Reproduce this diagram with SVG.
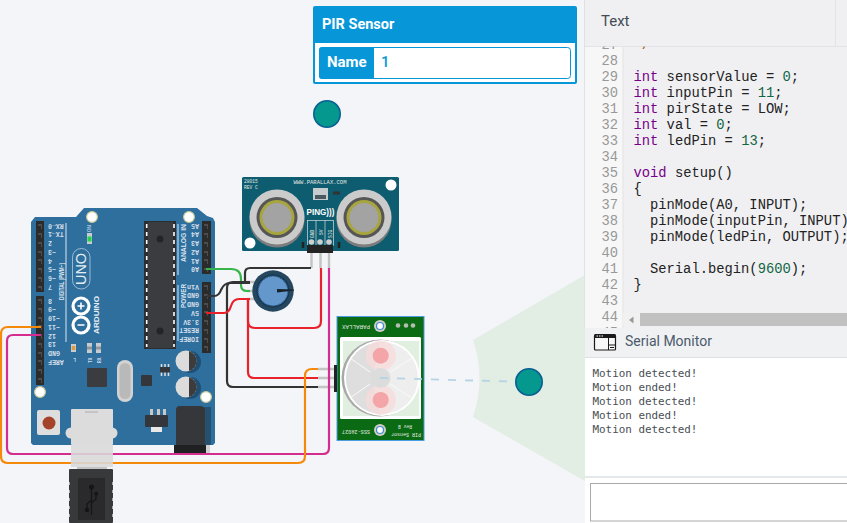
<svg xmlns="http://www.w3.org/2000/svg" width="847" height="523" viewBox="0 0 847 523">
<style>
.wire{fill:none;stroke-width:2.2;stroke-linejoin:round;stroke-linecap:butt}
.lead{fill:none;stroke:#c4c4c4;stroke-width:2.4}
.lab{font:700 6.600px "Liberation Mono",monospace;fill:#d5deE8}
.vlab{font:700 7.6px "Liberation Sans",sans-serif;fill:#dde6ef}
.hole{fill:#fff;stroke:#c9c89a;stroke-width:1.2}
.code{font:13.8px "Liberation Mono",monospace;fill:#222}
.num{font:13.8px "Liberation Mono",monospace;fill:#999;text-anchor:end}
.k{fill:#708}.n{fill:#164}
.out{font:10.9px "DejaVu Sans Mono",monospace;fill:#4a4f55}
.tiny{font:4.6px "Liberation Mono",monospace;fill:#e2e8e2}
.node-dot{fill:#04988f;stroke:#0a5f92;stroke-width:1.6}
</style>
<defs><clipPath id="editor"><rect x="585" y="46.500" width="262" height="281.500"/></clipPath></defs>
<rect width="847" height="523" fill="#f4f5f8"/>
<path id="cone" d="M473 340Q486 378 473 417L590 484V272Z" fill="#e2ede4"/>
<g id="arduino">
<path d="M31 222L35 217H76L84 208H197L207 216L213 218L215 222V443L213 445H33L31 443Z" fill="#2e6f9e"/>
<g fill="#2b2b2b">
<rect x="36" y="221" width="8" height="71"/><rect x="36" y="296" width="8" height="89"/>
<rect x="202" y="221" width="9" height="53"/><rect x="202" y="282" width="9" height="71"/>
</g>
<path d="M38 224h4v5h-1v-3h-3zM38 233h4v5h-1v-3h-3zM38 242h4v5h-1v-3h-3zM38 251h4v5h-1v-3h-3zM38 259h4v5h-1v-3h-3zM38 268h4v5h-1v-3h-3zM38 277h4v5h-1v-3h-3zM38 286h4v4h-1v-2h-3zM38 299h4v5h-1v-3h-3zM38 308h4v5h-1v-3h-3zM38 317h4v5h-1v-3h-3zM38 325h4v5h-1v-3h-3zM38 334h4v5h-1v-3h-3zM38 343h4v5h-1v-3h-3zM38 352h4v5h-1v-3h-3zM38 360h4v5h-1v-3h-3zM38 369h4v5h-1v-3h-3zM38 378h4v5h-1v-3h-3zM204 224h4v5h-1v-3h-3zM204 233h4v5h-1v-3h-3zM204 242h4v5h-1v-3h-3zM204 251h4v5h-1v-3h-3zM204 259h4v5h-1v-3h-3zM204 268h4v4h-1v-2h-3zM204 285h4v5h-1v-3h-3zM204 294h4v5h-1v-3h-3zM204 303h4v5h-1v-3h-3zM204 311h4v5h-1v-3h-3zM204 320h4v5h-1v-3h-3zM204 329h4v5h-1v-3h-3zM204 338h4v5h-1v-3h-3zM204 346h4v5h-1v-3h-3z" fill="#4c4c4c"/>
<g class="lab" text-anchor="end">
<text transform="rotate(180 48 223.500)" x="48" y="223.500">RX←0</text>
<text transform="rotate(180 48 232.300)" x="48" y="232.300">TX→1</text>
<text transform="rotate(180 48 241)" x="48" y="241">2</text>
<text transform="rotate(180 48 249.800)" x="48" y="249.800">~3</text>
<text transform="rotate(180 48 258.500)" x="48" y="258.500">4</text>
<text transform="rotate(180 48 267.300)" x="48" y="267.300">~5</text>
<text transform="rotate(180 48 276)" x="48" y="276">~6</text>
<text transform="rotate(180 48 284.800)" x="48" y="284.800">7</text>
<text transform="rotate(180 48 298.500)" x="48" y="298.500">8</text>
<text transform="rotate(180 48 307.300)" x="48" y="307.300">~9</text>
<text transform="rotate(180 48 316)" x="48" y="316">~10</text>
<text transform="rotate(180 48 324.800)" x="48" y="324.800">~11</text>
<text transform="rotate(180 48 333.500)" x="48" y="333.500">12</text>
<text transform="rotate(180 48 342.300)" x="48" y="342.300">13</text>
<text transform="rotate(180 48 351)" x="48" y="351">GND</text>
<text transform="rotate(180 48 359.800)" x="48" y="359.800">AREF</text>
</g>
<g class="lab" text-anchor="start">
<text transform="rotate(180 199 223.500)" x="199" y="223.500">A5</text>
<text transform="rotate(180 199 232.300)" x="199" y="232.300">A4</text>
<text transform="rotate(180 199 241)" x="199" y="241">A3</text>
<text transform="rotate(180 199 249.800)" x="199" y="249.800">A2</text>
<text transform="rotate(180 199 258.500)" x="199" y="258.500">A1</text>
<text transform="rotate(180 199 267.300)" x="199" y="267.300">A0</text>
<text transform="rotate(180 199 284.500)" x="199" y="284.500">Vin</text>
<text transform="rotate(180 199 293.300)" x="199" y="293.300">GND</text>
<text transform="rotate(180 199 302)" x="199" y="302">GND</text>
<text transform="rotate(180 199 310.800)" x="199" y="310.800">5V</text>
<text transform="rotate(180 199 319.500)" x="199" y="319.500">3.3V</text>
<text transform="rotate(180 199 328.300)" x="199" y="328.300">RESET</text>
<text transform="rotate(180 199 337)" x="199" y="337">IOREF</text>
</g>
<path d="M66 223V342M178 224V275M178 285V341" stroke="#dde6ef" stroke-width="1" fill="none"/>
<text class="vlab" transform="translate(64 300) rotate(-90)" textLength="37" lengthAdjust="spacingAndGlyphs">DIGITAL (PWM~)</text>
<text class="vlab" transform="translate(186 262) rotate(-90)" textLength="38" lengthAdjust="spacingAndGlyphs">ANALOG IN</text>
<text class="vlab" transform="translate(186 308) rotate(-90)" textLength="24" lengthAdjust="spacingAndGlyphs">POWER</text>
<rect x="72.500" y="248.500" width="17.500" height="40.500" rx="8.700" fill="none" stroke="#b9cbdc" stroke-width="0.800"/>
<text transform="translate(86 285) rotate(-90)" font-family="Liberation Sans,sans-serif" font-size="14" fill="#e6edf3" textLength="32" lengthAdjust="spacingAndGlyphs">UNO</text>
<circle cx="81" cy="306" r="8" fill="none" stroke="#fff" stroke-width="3.200"/>
<circle cx="81" cy="325" r="8" fill="none" stroke="#fff" stroke-width="3.200"/>
<path d="M77.500 306h7M81 302.500v7M77.500 325h7" stroke="#fff" stroke-width="1.600"/>
<text transform="translate(99 334) rotate(-90)" font-family="Liberation Sans,sans-serif" font-weight="700" font-size="8" fill="#e6edf3" textLength="38" lengthAdjust="spacingAndGlyphs">ARDUINO</text>
<text transform="translate(91 232) rotate(-90)" font-family="Liberation Sans,sans-serif" font-size="4.500" fill="#dde6ef">ON</text>
<rect x="87" y="233" width="5" height="11" fill="#c5cdd2"/><rect x="87.500" y="236.500" width="4" height="5" fill="#27d14a"/>
<rect x="71" y="344" width="5" height="8" fill="#c8ccce"/><rect x="71.800" y="346" width="3.400" height="4" fill="#e49a3a"/>
<rect x="87" y="343" width="5" height="10" fill="#c8ccce"/><rect x="96" y="343" width="5" height="10" fill="#c8ccce"/>
<rect x="87" y="346.500" width="5" height="3" fill="#8f979c"/><rect x="96" y="346.500" width="5" height="3" fill="#8f979c"/>
<text class="lab" transform="rotate(180 76 358)" x="76" y="358" style="font-size:4.500px">L</text>
<text class="lab" transform="translate(92 363) rotate(-90)" style="font-size:4.500px">TX</text>
<text class="lab" transform="translate(101 363) rotate(-90)" style="font-size:4.500px">RX</text>
<rect x="144" y="221" width="32" height="128" fill="#2b2d30"/>
<rect x="148" y="222" width="25" height="126" fill="#3a3c40"/>
<path d="M146.700 224V347M174 224V347" stroke="#fff" stroke-width="1.600" stroke-dasharray="4 4"/>
<circle cx="160" cy="239" r="3.500" fill="#232427"/><circle cx="160" cy="331" r="3.500" fill="#232427"/>
<rect x="87" y="368" width="20" height="19" rx="1" fill="#3a3c40"/>
<rect x="141" y="375" width="11" height="11" rx="1" fill="#33363a"/>
<path d="M161.500 364v4M165 364v4M168.500 364v4M161.500 372v4M165 372v4M168.500 372v4" stroke="#d8dadc" stroke-width="1.600"/>
<rect x="160" y="367" width="10" height="5.500" fill="#33363a"/>
<rect x="117" y="360" width="16" height="42" rx="8" fill="#d3d3d3"/>
<rect x="119.500" y="363" width="11" height="36" rx="5.500" fill="#b9b9b9"/>
<circle cx="190" cy="362" r="11" fill="#1f4f73"/><circle cx="190" cy="388" r="11" fill="#1f4f73"/>
<circle cx="186" cy="361" r="10.500" fill="#dcdcdc"/><path d="M189 350.900A10.500 10.500 0 0 1 189 371.100Z" fill="#3c3c3c"/>
<circle cx="186" cy="387" r="10.500" fill="#dcdcdc"/><path d="M189 376.900A10.500 10.500 0 0 1 189 397.100Z" fill="#3c3c3c"/>
<circle class="hole" cx="92" cy="217" r="5.400"/><circle class="hole" cx="189" cy="217" r="5.400"/>
<circle class="hole" cx="40" cy="392" r="5.400"/><circle class="hole" cx="206" cy="397" r="5.400"/>
<rect x="37" y="410" width="23" height="25" rx="2" fill="#dedede"/><circle cx="49" cy="423" r="6.500" fill="#a5432a"/>
<path d="M150 409h3v7h-3zM157 409h3v7h-3zM163 409h3v7h-3z" fill="#c8c8c8"/>
<rect x="145" y="415" width="23" height="12" rx="1" fill="#33363a"/>
<rect x="151" y="427" width="11" height="5" fill="#e8e8e8"/>
<rect x="190" y="407" width="21" height="38" fill="#25506f"/>
<path d="M176 410Q176 406 180 406H200Q205 406 205 411V445H176Z" fill="#35373a"/>
<rect x="174" y="445" width="32" height="9" fill="#1f2022"/>
<rect x="206" y="445" width="4" height="9" fill="#cfd0d2"/>
<circle cx="71" cy="433" r="5.500" fill="#dcdcdc"/><circle cx="112" cy="433" r="5.500" fill="#dcdcdc"/>
<rect x="71" y="409" width="42" height="36" rx="1" fill="#dcdcdc"/>
<rect x="85" y="411" width="13" height="2" fill="#c4c4c4"/>
</g>
<g id="ping-sensor">
<rect x="242" y="177" width="157" height="74" rx="1.500" fill="#0e5c70"/>
<g>
<circle cx="277" cy="220" r="27.500" fill="#7d7d7d"/><circle cx="277" cy="217" r="27.500" fill="#cbcbcb"/>
<circle cx="277" cy="217.500" r="20.500" fill="#565656"/><circle cx="277" cy="217.500" r="17.500" fill="#a7a53d"/><circle cx="277" cy="217.500" r="14.500" fill="#a3a3a3"/>
<circle cx="364" cy="220" r="27.500" fill="#7d7d7d"/><circle cx="364" cy="217" r="27.500" fill="#cbcbcb"/>
<circle cx="364" cy="217.500" r="20.500" fill="#565656"/><circle cx="364" cy="217.500" r="17.500" fill="#a7a53d"/><circle cx="364" cy="217.500" r="14.500" fill="#a3a3a3"/>
</g>
<circle cx="391" cy="185" r="5.500" fill="#fff"/><circle cx="250" cy="243" r="5.500" fill="#fff"/>
<text class="tiny" x="244" y="183">28015</text><text class="tiny" x="244" y="189">REV C</text>
<text class="tiny" x="320" y="184" text-anchor="middle" textLength="53" lengthAdjust="spacingAndGlyphs">WWW.PARALLAX.COM</text>
<rect x="313" y="188" width="15" height="12" fill="#c6ccce"/><rect x="315" y="195" width="11" height="4" fill="#4a5a60"/>
<rect x="333" y="191.500" width="7" height="3" fill="#333"/>
<text x="306.500" y="215" font-family="Liberation Sans,sans-serif" font-weight="700" font-size="8.500" fill="#fff" textLength="28" lengthAdjust="spacingAndGlyphs">PING)))</text>
<rect x="307.500" y="220.500" width="26" height="25" fill="none" stroke="#d4e0e2" stroke-width="0.700"/>
<path d="M316 220.500V245M325 220.500V245" stroke="#d4e0e2" stroke-width="0.700"/>
<g class="tiny"><text transform="translate(314 238) rotate(-90)">GND</text><text transform="translate(323 235) rotate(-90)">5V</text><text transform="translate(332 238) rotate(-90)">SIG</text></g>
<path d="M303 242v6M339 242v6" stroke="#222" stroke-width="2.500"/>
<circle cx="311.500" cy="242" r="2.800" fill="#cfcfcf"/><circle cx="320" cy="242" r="2.800" fill="#cfcfcf"/><circle cx="329" cy="242" r="2.800" fill="#cfcfcf"/>
<path d="M307 245h26v8h-26z" fill="#232323"/>
<path d="M311.500 253V268M320.500 253V268M329 253V268" class="lead"/>
</g>
<g id="potentiometer">
<path d="M247 282H256M247 291H256M247 299H256" class="lead"/>
<circle cx="273" cy="291" r="20.700" fill="#24465e"/>
<circle cx="273" cy="291" r="16.500" fill="#16344a"/>
<circle cx="273" cy="291" r="15" fill="#6497cc" stroke="#2a5680" stroke-width="1.500" stroke-dasharray="1 1"/>
<path d="M277 289L294 289.500V290.500L277 292.500Z" fill="#18222a"/>
</g>
<g id="pir-sensor">
<rect x="337" y="316.500" width="87" height="124" fill="#0b6b14" stroke="#4a9de0" stroke-width="1"/>
<rect x="340" y="337" width="81" height="82" rx="1.500" fill="#fff"/>
<rect x="343" y="341" width="76" height="75" fill="#e0efdf"/>
<circle cx="380" cy="378" r="38.500" fill="#a9a9a9"/>
<circle cx="382" cy="378" r="38" fill="#fff"/>
<circle cx="382" cy="378" r="36" fill="#eeeeee"/>
<path d="M382 342A36 36 0 0 0 382 414Q366 378 382 342Z" fill="#dedede"/>
<path d="M380 368L380 342M380 388L380 414M370 372L350 358M390 372L412 358M370 384L350 398M390 384L412 398" stroke="#fafafa" stroke-width="1"/>
<circle cx="380.700" cy="355.700" r="15" fill="#f8d9d9" opacity="0.750"/><circle cx="380.700" cy="355.700" r="8" fill="#f3a5a8"/>
<circle cx="380.700" cy="400" r="15" fill="#f8d9d9" opacity="0.750"/><circle cx="380.700" cy="400" r="8" fill="#f3a5a8"/>
<circle cx="380.500" cy="378" r="10" fill="#dcdcdc"/>
<circle cx="380" cy="326" r="6" fill="#cfcfc2"/><circle cx="380" cy="326" r="3.500" fill="#fff" stroke="#3f88d8" stroke-width="1.200"/>
<circle cx="380" cy="430" r="6" fill="#cfcfc2"/><circle cx="380" cy="430" r="3.500" fill="#fff" stroke="#3f88d8" stroke-width="1.200"/>
<circle cx="398" cy="325.500" r="2.300" fill="#b4bdb0"/><circle cx="406" cy="325.500" r="2.300" fill="#b4bdb0"/><circle cx="413" cy="325.500" r="2.300" fill="#b4bdb0"/>
<g class="tiny">
<text transform="rotate(180 370 325)" x="370" y="325" textLength="28" lengthAdjust="spacingAndGlyphs">PARALLAX</text>
<text transform="rotate(180 370 430)" x="370" y="430" textLength="28" lengthAdjust="spacingAndGlyphs">SSS-28027</text>
<text transform="rotate(180 421 433)" x="421" y="433" textLength="30" lengthAdjust="spacingAndGlyphs">PIR Sensor</text>
<text transform="rotate(180 412 425)" x="412" y="425" textLength="14" lengthAdjust="spacingAndGlyphs">Rev B</text>
</g>
<rect x="334" y="365" width="3" height="27" fill="#222"/>
<path d="M318 369H334M318 378H334M318 387H334" class="lead"/>
</g>
<g id="connectors">
<path class="wire" stroke="#36b54a" d="M206 269H231Q241 269 241 279V285Q241 291 247 291H250"/>
<path class="wire" stroke="#333" d="M207 296H214Q219 296 221 290Q224 283 230 283H250"/>
<path class="wire" stroke="#333" d="M250 282H233Q227 282 227 288V381Q227 387 233 387H318"/>
<path class="wire" stroke="#333" d="M250 282H245V273Q245 268 250 268H311"/>
<path class="wire" stroke="#e8212b" d="M206 313H224Q229 313 231 306Q233 299 239 299H250"/>
<path class="wire" stroke="#e8212b" d="M248 299V321Q248 328 255 328H314Q321 328 321 321V268"/>
<path class="wire" stroke="#e8212b" d="M248 299V372Q248 378 254 378H318"/>
<path class="wire" stroke="#d42d8f" d="M41 335H13Q7 335 7 341V448Q7 454 13 454H323Q329 454 329 448V268"/>
<path class="wire" stroke="#f58a0a" d="M41 327H8Q1 327 1 334V456Q1 463 8 463H298Q305 463 305 456V376Q305 369 312 369H318"/>
<path d="M380 378L529 382" fill="none" stroke="#b5d3e6" stroke-width="1.800" stroke-dasharray="8 9"/>
</g>
<g id="usb-cable">
<rect x="71" y="445" width="42" height="22" fill="#dadada" opacity="0.880"/>
<rect x="77" y="467" width="30" height="3" fill="#c4c4c4"/>
<rect x="69" y="469" width="44" height="54" rx="1" fill="#38393b"/>
<path d="M69 482v3M69 490v3M69 498v3M69 506v3M69 514v3M113 482v3M113 490v3M113 498v3M113 506v3M113 514v3" stroke="#f4f5f8" stroke-width="1.200"/>
<rect x="78" y="478" width="27" height="42" fill="#2a2a2c"/>
<path d="M91.500 487V515M91.500 500L87 504V508M91.500 503L96 499V496" fill="none" stroke="#151517" stroke-width="1.200"/>
<circle cx="91.500" cy="487" r="2.500" fill="#151517"/><circle cx="87" cy="510" r="2.200" fill="#151517"/><rect x="94.500" y="492" width="3.500" height="3.500" fill="#151517"/>
</g>
<g id="pir-target"><circle class="node-dot" cx="529" cy="382" r="13.200"/></g>
<g id="ping-target"><circle class="node-dot" cx="327" cy="114" r="13.200"/></g>
<g id="pir-panel">
<rect x="313" y="6" width="264" height="78" rx="2" fill="#0797d9"/>
<rect x="315" y="43" width="260" height="39" fill="#fff"/>
<rect x="319.500" y="47.500" width="251" height="31" rx="3" fill="#fff" stroke="#0797d9"/>
<path d="M322 47H374V79H322Q319 79 319 76V50Q319 47 322 47Z" fill="#0797d9"/>
<text x="322" y="29" font-family="Roboto,sans-serif" font-weight="700" font-size="14.500" fill="#fff">PIR Sensor</text>
<text x="327" y="67" font-family="Roboto,sans-serif" font-weight="700" font-size="15" fill="#fff">Name</text>
<text x="381" y="67" font-family="Roboto,sans-serif" font-weight="500" font-size="15" fill="#0797d9">1</text>
</g>
<g id="code-panel">
<rect x="585" y="0" width="262" height="523" fill="#f0f0f2"/>
<rect x="584" y="0" width="1" height="328" fill="#dfe1e4"/>
<rect x="585" y="46" width="38" height="282" fill="#f7f7f7"/>
<rect x="622.500" y="46" width="1" height="282" fill="#e3e3e3"/>
<path d="M585 46.500H847M835.500 0V46" stroke="#e1e3e6"/>
<text x="601" y="26" font-family="Roboto,sans-serif" font-size="15" fill="#444b52">Text</text>
<g clip-path="url(#editor)">
<g class="num">
<text x="618" y="49">27</text><text x="618" y="65">28</text><text x="618" y="81">29</text><text x="618" y="97">30</text><text x="618" y="113">31</text><text x="618" y="129">32</text><text x="618" y="145">33</text><text x="618" y="161">34</text><text x="618" y="177">35</text><text x="618" y="193">36</text><text x="618" y="209">37</text><text x="618" y="225">38</text><text x="618" y="241">39</text><text x="618" y="257">40</text><text x="618" y="273">41</text><text x="618" y="289">42</text><text x="618" y="305">43</text><text x="618" y="321">44</text><text x="618" y="337">45</text>
</g>
<g class="code">
<text x="633.500" y="49" fill="#a50">*/</text>
<text x="633.500" y="81"><tspan class="k">int</tspan> sensorValue = <tspan class="n">0</tspan>;</text>
<text x="633.500" y="97"><tspan class="k">int</tspan> inputPin = <tspan class="n">11</tspan>;</text>
<text x="633.500" y="113"><tspan class="k">int</tspan> pirState = LOW;</text>
<text x="633.500" y="129"><tspan class="k">int</tspan> val = <tspan class="n">0</tspan>;</text>
<text x="633.500" y="145"><tspan class="k">int</tspan> ledPin = <tspan class="n">13</tspan>;</text>
<text x="633.500" y="177"><tspan class="k">void</tspan> setup()</text>
<text x="633.500" y="193">{</text>
<text x="650" y="209">pinMode(A0, INPUT);</text>
<text x="650" y="225">pinMode(inputPin, INPUT);</text>
<text x="650" y="241">pinMode(ledPin, OUTPUT);</text>
<text x="650" y="273">Serial.begin(<tspan class="n">9600</tspan>);</text>
<text x="633.500" y="289">}</text>
</g>
</g>
<rect x="623" y="313" width="224" height="13" fill="#f1f1f1"/>
<rect x="640" y="313" width="207" height="13" fill="#c1c1c1"/>
<path d="M633.500 316.500L629 320L633.500 323.500Z" fill="#9a9a9a"/>
</g>
<g id="serial-monitor">
<rect x="585" y="328" width="262" height="30" fill="#f0f1f3"/>
<rect x="585" y="357" width="262" height="1" fill="#dcdfe3"/>
<rect x="585" y="358" width="262" height="165" fill="#fff"/>
<rect x="585" y="476.500" width="262" height="1" fill="#ccd2d8"/>
<rect x="590.500" y="483.500" width="262" height="37.500" fill="#fff" stroke="#aaa" stroke-width="1"/>
<rect x="594.500" y="335" width="21" height="15" rx="1" fill="#f7f7f8" stroke="#1a1a1a" stroke-width="1.200"/>
<rect x="594.500" y="334" width="21" height="4" fill="#1a1a1a"/>
<path d="M596.500 336h1.500M599 336h1.500M601.500 336h1.500" stroke="#fff"/>
<path d="M608.500 338V350M609 345H615M610 347.500H614" stroke="#1a1a1a" fill="none"/>
<text x="625" y="346" font-family="Roboto,sans-serif" font-size="14" fill="#4b5a6b">Serial Monitor</text>
<g class="out">
<text x="592.500" y="377">Motion detected!</text>
<text x="592.500" y="391">Motion ended!</text>
<text x="592.500" y="405">Motion detected!</text>
<text x="592.500" y="419">Motion ended!</text>
<text x="592.500" y="433">Motion detected!</text>
</g>
</g>
</svg>
